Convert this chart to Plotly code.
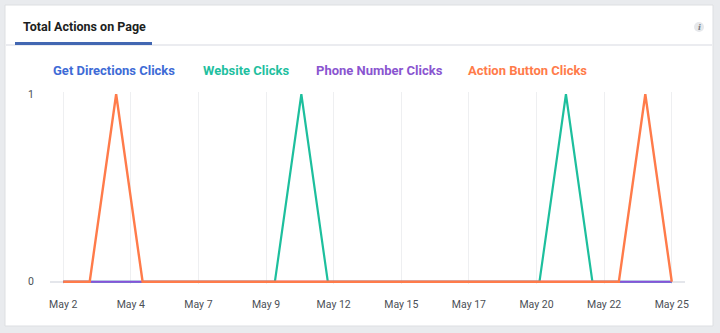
import plotly.graph_objects as go

dates = ["May 2", "May 3", "May 4", "May 5", "May 6", "May 7", "May 8", "May 9",
         "May 10", "May 11", "May 12", "May 13", "May 14", "May 15", "May 16", "May 17",
         "May 18", "May 19", "May 20", "May 21", "May 22", "May 23", "May 24", "May 25"]
get_directions = [0, 0, 0, 0, 0, 0, 0, 0, 0, 0, 0, 0, 0, 0, 0, 0, 0, 0, 0, 0, 0, 0, 0, 0]
website_clicks = [0, 0, 0, 0, 0, 0, 0, 0, 0, 1, 0, 0, 0, 0, 0, 0, 0, 0, 0, 1, 0, 0, 0, 0]
phone_clicks   = [0, 0, 0, 0, 0, 0, 0, 0, 0, 0, 0, 0, 0, 0, 0, 0, 0, 0, 0, 0, 0, 0, 0, 0]
action_clicks  = [0, 0, 1, 0, 0, 0, 0, 0, 0, 0, 0, 0, 0, 0, 0, 0, 0, 0, 0, 0, 0, 0, 1, 0]
tick_labels = ["May 2", "May 4", "May 7", "May 9", "May 12", "May 15", "May 17", "May 20", "May 22", "May 25"]
y_ticks = [0, 1]

series = [
    ("Get Directions Clicks", get_directions, "#4a76e0", "#3e6bd6", 1.2),
    ("Website Clicks", website_clicks, "#1dbf9d", "#1fbf9f", 2.2),
    ("Phone Number Clicks", phone_clicks, "#8c4fdc", "#8a55d0", 2.2),
    ("Action Button Clicks", action_clicks, "#ff7b4a", "#ff7b4a", 2.4),
]

FONT = "Roboto"
W, H = 720, 333
L, R, T, B = 50, 685, 92, 284


def px(x):
    return (x - L) / (R - L)


def py(y):
    return (B - y) / (B - T)


xs = list(range(len(dates)))
n = len(dates) - 1
tickvals = [i * n / (len(tick_labels) - 1) for i in range(len(tick_labels))]

fig = go.Figure()
for name, vals, col, _, w in series:
    fig.add_trace(go.Scatter(x=xs, y=vals, mode="lines", name=name,
                             line=dict(color=col, width=w),
                             hovertext=dates, showlegend=False))

shapes = [
    # card
    dict(type="rect", xref="paper", yref="paper", x0=px(5), x1=px(713), y0=py(326), y1=py(5),
         fillcolor="white", line=dict(color="#dddfe2", width=1), layer="below"),
    # separator
    dict(type="line", xref="paper", yref="paper", x0=px(6), x1=px(712), y0=py(45), y1=py(45),
         line=dict(color="#e4e6eb", width=1.5), layer="below"),
    # tab underline
    dict(type="rect", xref="paper", yref="paper", x0=px(15), x1=px(152), y0=py(45), y1=py(42),
         fillcolor="#4267b2", line=dict(width=0), layer="below"),
    # info icon
    dict(type="circle", xref="paper", yref="paper", x0=px(694), x1=px(704), y0=py(32), y1=py(22),
         fillcolor="#e6e8eb", line=dict(width=0), layer="below"),
]

annotations = [
    dict(text="Total Actions on Page", x=px(21), y=py(27), xref="paper", yref="paper",
         xanchor="left", yanchor="middle", showarrow=False,
         font=dict(family=FONT, size=12.5, color="#1c1e21", weight="bold")),
    dict(text="<i>i</i>", x=px(699), y=py(27), xref="paper", yref="paper",
         xanchor="center", yanchor="middle", showarrow=False,
         font=dict(family="DejaVu Serif", size=8, color="#7a7f87", weight="bold")),
]
leg_x = [51, 201, 314, 466]
for (name, _, _, tcol, _), lx in zip(series, leg_x):
    annotations.append(dict(text=name, x=px(lx), y=py(70), xref="paper", yref="paper",
                            xanchor="left", yanchor="middle", showarrow=False,
                            font=dict(family=FONT, size=13, color=tcol, weight="bold")))

fig.update_layout(
    width=W, height=H,
    margin=dict(l=L, r=W - R, t=T, b=H - B, pad=0),
    paper_bgcolor="#e9ebee", plot_bgcolor="rgba(0,0,0,0)",
    font=dict(family=FONT, size=10, color="#606770"),
    shapes=shapes, annotations=annotations,
    showlegend=False,
    xaxis=dict(range=[-0.5, n + 0.5], tickvals=tickvals, ticktext=tick_labels,
               showgrid=True, gridcolor="#eeeff1", gridwidth=1, zeroline=False,
               showline=False, ticks="outside", ticklen=10, tickcolor="rgba(0,0,0,0)",
               tickfont=dict(family=FONT, size=10.5, color="#4b4f56"), fixedrange=True),
    yaxis=dict(range=[-0.012, 1.012], tickvals=y_ticks, ticktext=[str(v) for v in y_ticks],
               showgrid=False, zeroline=True, zerolinecolor="#e4e6eb", zerolinewidth=1.5,
               showline=False, ticks="outside", ticklen=13, tickcolor="rgba(0,0,0,0)",
               tickfont=dict(family=FONT, size=10.5, color="#4b4f56"), fixedrange=True),
)

fig.write_html("out.html")
